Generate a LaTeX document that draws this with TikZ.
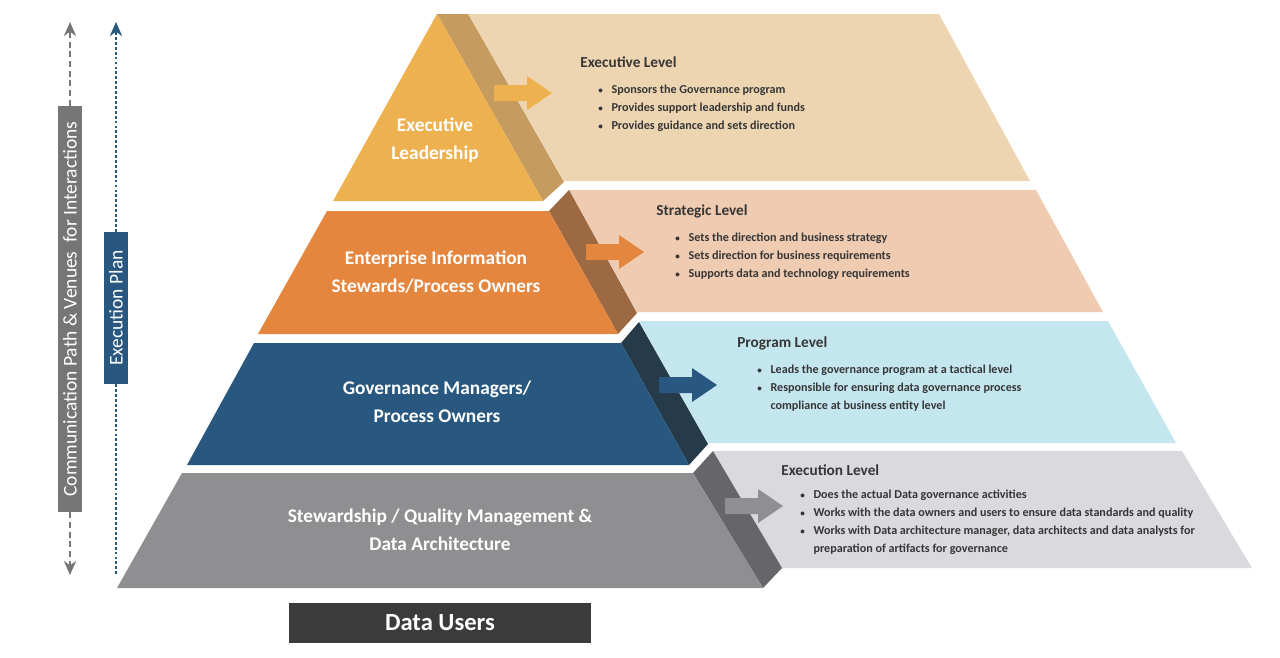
\documentclass[tikz,border=0pt]{standalone}
\usepackage{fontspec}
\setmainfont{Carlito}
\usepackage{tikz}
\usetikzlibrary{positioning, arrows.meta}

\definecolor{execfill}{HTML}{EDB24F}
\definecolor{execside}{HTML}{C69B5F}
\definecolor{execpanel}{HTML}{EDD5B2}
\definecolor{stratfill}{HTML}{E5863E}
\definecolor{stratside}{HTML}{9C6942}
\definecolor{stratpanel}{HTML}{EFCBB1}
\definecolor{progfill}{HTML}{28587F}
\definecolor{progside}{HTML}{263B4A}
\definecolor{progpanel}{HTML}{C4E7EF}
\definecolor{runfill}{HTML}{8F8F92}
\definecolor{runside}{HTML}{66666A}
\definecolor{runpanel}{HTML}{D9D9DE}
\definecolor{textgray}{HTML}{363636}
\definecolor{commgray}{HTML}{767676}
\definecolor{userbox}{HTML}{3B3B3B}

\newcommand{\bul}{\makebox[7.5pt][l]{\raisebox{0.4pt}{\scalebox{0.75}{\textbullet}}}}
\newcommand{\cont}{\hspace*{7.5pt}}
% block arrow with its tip at (#1,#2)
\newcommand{\levelarrow}[3]{%
  \fill[#3] (#1,#2) ++(-58,-8) -- ++(33,0) -- ++(0,-9) -- ++(25,17)
     -- ++(-25,17) -- ++(0,-9) -- ++(-33,0) -- cycle;}

\tikzset{
    tier/.style={text=white, align=center, font=\fontsize{11}{15.9}\selectfont\bfseries}, % labels on the pyramid
    leveltitle/.style={anchor=north west, inner sep=0pt, text=textgray, font=\fontsize{8.7}{10}\selectfont\bfseries}, % panel headings
    levellist/.style={anchor=north west, inner sep=0pt, text=textgray, align=left, font=\fontsize{6.9}{10.2}\selectfont\bfseries}, % bullet lists
    sidebar/.style={rotate=90, text=white, inner sep=0pt, minimum height=0.5cm, font=\fontsize{11.1}{13}\selectfont}, % vertical bars
    >=Stealth,
}

\begin{document}
\begin{tikzpicture}[x=0.02cm, y=-0.02cm]
\useasboundingbox (0,0) rectangle (1280,657);

% executive tier
\fill[execpanel] (468,14) -- (939,14) -- (1030,181) -- (564,181) -- cycle;
\fill[execside] (437,14) -- (468,14) -- (564,182) -- (543,201) -- cycle;
\fill[execfill] (437,14) -- (543,201) -- (333,201) -- cycle;

% strategic tier
\fill[stratpanel] (569,190) -- (1036,190) -- (1103,312) -- (637,312) -- cycle;
\fill[stratside] (549,211) -- (569,190) -- (637,313) -- (618,334) -- cycle;
\fill[stratfill] (327,211) -- (549,211) -- (618,334) -- (258,334) -- cycle;

% program tier
\fill[progpanel] (639,321) -- (1108,321) -- (1176,443) -- (708,443) -- cycle;
\fill[progside] (621,343) -- (639,322) -- (708,444) -- (689,465) -- cycle;
\fill[progfill] (254,343) -- (621,343) -- (689,465) -- (187,465) -- cycle;

% execution tier
\fill[runpanel] (713,451) -- (1182,451) -- (1252,568) -- (782,568) -- cycle;
\fill[runside] (693,473) -- (713,451) -- (782,568) -- (763,588) -- cycle;
\fill[runfill] (182,473) -- (693,473) -- (763,588) -- (117,588) -- cycle;

% arrows into the panels
\levelarrow{552}{93}{execfill}
\levelarrow{644}{252}{stratfill}
\levelarrow{717}{385}{progfill}
\levelarrow{783}{506}{runfill}

% tier labels
\node[tier] (exec) at (435,140) {Executive\\Leadership};
\node[tier] (strat) at (436,272) {Enterprise Information\\Stewards/Process Owners};
\node[tier] (prog) at (437,402) {Governance Managers/\\Process Owners};
\node[tier] (run) at (440,530) {Stewardship / Quality Management \&\\Data Architecture};

% panel texts
\node[leveltitle] (exectitle) at (580,56) {Executive Level};
\node[levellist] (execlist) at (598,85) {\bul Sponsors the Governance program\\
  \bul Provides support leadership and funds\\
  \bul Provides guidance and sets direction};

\node[leveltitle] (strattitle) at (656,204) {Strategic Level};
\node[levellist] (stratlist) at (675,233) {\bul Sets the direction and business strategy\\
  \bul Sets direction for business requirements\\
  \bul Supports data and technology requirements};

\node[leveltitle] (progtitle) at (737,336) {Program Level};
\node[levellist] (proglist) at (757,365) {\bul Leads the governance program at a tactical level\\
  \bul Responsible for ensuring data governance process\\
  \cont compliance at business entity level};

\node[leveltitle] (runtitle) at (781,464) {Execution Level};
\node[levellist] (runlist) at (800,490) {\bul Does the actual Data governance activities\\
  \bul Works with the data owners and users to ensure data standards and quality\\
  \bul Works with Data architecture manager, data architects and data analysts for\\
  \cont preparation of artifacts for governance};

% data users
\node[fill=userbox, text=white, minimum width=6.04cm, minimum height=0.8cm,
      font=\fontsize{14}{16}\selectfont\bfseries] (users) at (440,623) {Data Users};

% side bars
\node[sidebar, fill=commgray, minimum width=8.12cm] (commbar) at (70,309)
  {Communication Path \& Venues\ \ for Interactions};
\node[sidebar, fill=progfill, minimum width=3.04cm] (planbar) at (116,308)
  {Execution Plan};
\coordinate (commtop) at (70,22);
\coordinate (commbot) at (70,575);
\coordinate (plantop) at (116,22);
\coordinate (planbot) at (116,575);
\draw[commgray, line width=1.1pt, dash pattern=on 3.5pt off 2pt,
      -{Stealth[length=8pt, width=7pt, inset=2.5pt]}] (commbar.east) -- (commtop);
\draw[commgray, line width=1.1pt, dash pattern=on 3.5pt off 2pt,
      -{Stealth[length=8pt, width=7pt, inset=2.5pt]}] (commbar.west) -- (commbot);
\draw[progfill, line width=1.1pt, dash pattern=on 1.6pt off 1.2pt,
      -{Stealth[length=8pt, width=7pt, inset=2.5pt]}] (planbar.east) -- (plantop);
\draw[progfill, line width=1.1pt, dash pattern=on 1.6pt off 1.2pt] (planbar.west) -- (planbot);
\end{tikzpicture}
\end{document}
